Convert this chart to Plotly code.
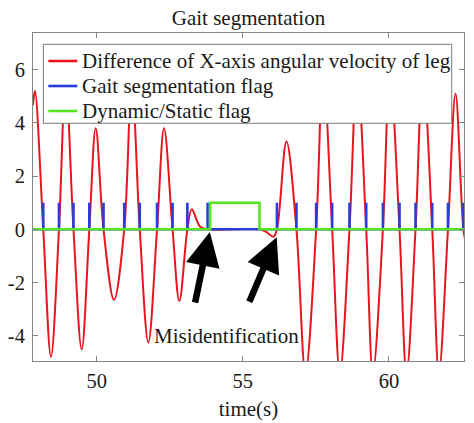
import plotly.graph_objects as go

# difference of X-axis angular velocity of leg (extrema and zero crossings)
red_t = [47.818, 47.887, 48.171, 48.435, 48.709, 48.938, 49.205, 49.486, 49.747, 49.966,
         50.233, 50.592, 50.942, 51.199, 51.473, 51.767, 52.065, 52.305, 52.596, 52.829,
         53.103, 53.253, 53.54, 53.795, 54.7, 55.56, 55.8, 56.048, 56.168, 56.493,
         56.836, 57.144, 57.510, 57.750, 58.058, 58.322, 58.651, 58.914, 59.223, 59.452,
         59.795, 60.034, 60.363, 60.603, 60.911, 61.164, 61.483, 61.712, 62.021, 62.281,
         62.55, 62.65]
red_v = [4.67, 5.2, 0, -4.79, 0, 5.6, 0, -4.51, 0, 3.8,
         0, -2.65, 0, 5.6, 0, -4.25, 0, 3.8, 0, -2.7,
         0, 0.75, 0.1, 0, 0, 0, -0.1, -0.28, 0, 3.3,
         0, -5.4, 0, 6.0, 0, -5.4, 0, 6.0, 0, -5.4,
         0, 6.0, 0, -5.4, 0, 6.0, 0, -5.4, 0, 5.1,
         0, -0.6]

# gait segmentation flag times (pulses to 1)
flag_t = [48.171, 48.709, 49.205, 49.747, 50.233, 50.942, 51.473, 52.065, 52.596, 53.103,
          53.795, 56.168, 56.836, 57.510, 58.058, 58.651, 59.223, 59.795, 60.363, 60.911,
          61.483, 62.021, 62.55]

# dynamic/static flag (step)
green_t = [47.7, 53.88, 55.57, 62.7]
green_v = [0, 1, 0, 0]

x_range = [47.82, 62.57]
y_range = [-4.95, 7.38]
x_ticks = [50, 55, 60]
y_ticks = [-4, -2, 0, 2, 4, 6]

names = ["Difference of X-axis angular velocity of leg", "Gait segmentation flag", "Dynamic/Static flag"]
colors = ["#e8141e", "#2a3cdc", "#55e61e"]

FONT = "Liberation Serif, Times New Roman, serif"
AX = "#858585"
TXT = "#1a1a1a"

blue_x = [x_range[0] - 0.2]
blue_y = [0]
for t in flag_t:
    blue_x += [t, t, t]
    blue_y += [0, 1, 0]
blue_x.append(x_range[1] + 0.2)
blue_y.append(0)

fig = go.Figure()
fig.add_trace(go.Scatter(x=red_t, y=red_v, mode="lines", name=names[0],
                         line=dict(color=colors[0], width=2, shape="spline", smoothing=1.0)))
fig.add_trace(go.Scatter(x=blue_x, y=blue_y, mode="lines", name=names[1],
                         line=dict(color=colors[1], width=2.6)))
fig.add_trace(go.Scatter(x=green_t, y=green_v, mode="lines", name=names[2],
                         line=dict(color=colors[2], width=2.6, shape="hv")))

axis_common = dict(showline=True, linecolor=AX, linewidth=1, mirror="ticks", ticks="inside",
                   ticklen=5, tickcolor=AX, showgrid=False, zeroline=False, automargin=False,
                   tickfont=dict(family=FONT, size=20.5, color=TXT))

fig.update_xaxes(range=x_range, tickvals=x_ticks, ticktext=[str(v) for v in x_ticks], ticklabelstandoff=1,
                 title=dict(text="time(s)", font=dict(family=FONT, size=21, color=TXT), standoff=10),
                 **axis_common)
fig.update_yaxes(range=y_range, tickvals=y_ticks, ticktext=[str(v) for v in y_ticks], ticklabelstandoff=3,
                 **axis_common)

# legend drawn by hand (MATLAB-style compact rows)
fig.add_shape(type="rect", xref="paper", yref="paper", x0=0.024, x1=0.9715, y0=0.7247, y1=0.9655,
              fillcolor="white", line=dict(color="#7a7a7a", width=1), layer="above")
row_y = [0.9146, 0.8384, 0.7622]
for name, col, ry in zip(names, colors, row_y):
    fig.add_shape(type="line", xref="paper", yref="paper", x0=0.0355, x1=0.1028, y0=ry, y1=ry,
                  line=dict(color=col, width=2.6), layer="above")
    fig.add_annotation(xref="paper", yref="paper", x=0.109, y=ry, xanchor="left", yanchor="middle",
                       text=name, showarrow=False, font=dict(family=FONT, size=21, color=TXT))

fig.add_annotation(x=53.87, y=-0.1, ax=-15, ay=72, showarrow=True, arrowhead=2, arrowsize=1.05,
                   arrowwidth=6.5, arrowcolor="black", text="")
fig.add_annotation(x=56.16, y=-0.3, ax=-28, ay=66, showarrow=True, arrowhead=2, arrowsize=1.05,
                   arrowwidth=6.5, arrowcolor="black", text="")
fig.add_annotation(x=54.44, y=-4.01, text="Misidentification", showarrow=False,
                   font=dict(family=FONT, size=21, color=TXT))

# the page body has an 8px margin, so the figure is sized to fit the window from there
fig.update_layout(
    width=466, height=415,
    margin=dict(l=25, r=10, t=25, b=62),
    paper_bgcolor="white", plot_bgcolor="white",
    title=dict(text="Gait segmentation", xref="paper", x=0.5, xanchor="center", y=1, yanchor="top",
               pad=dict(t=2), font=dict(family=FONT, size=21, color=TXT)),
    showlegend=False,
)

fig.write_html("out.html")
